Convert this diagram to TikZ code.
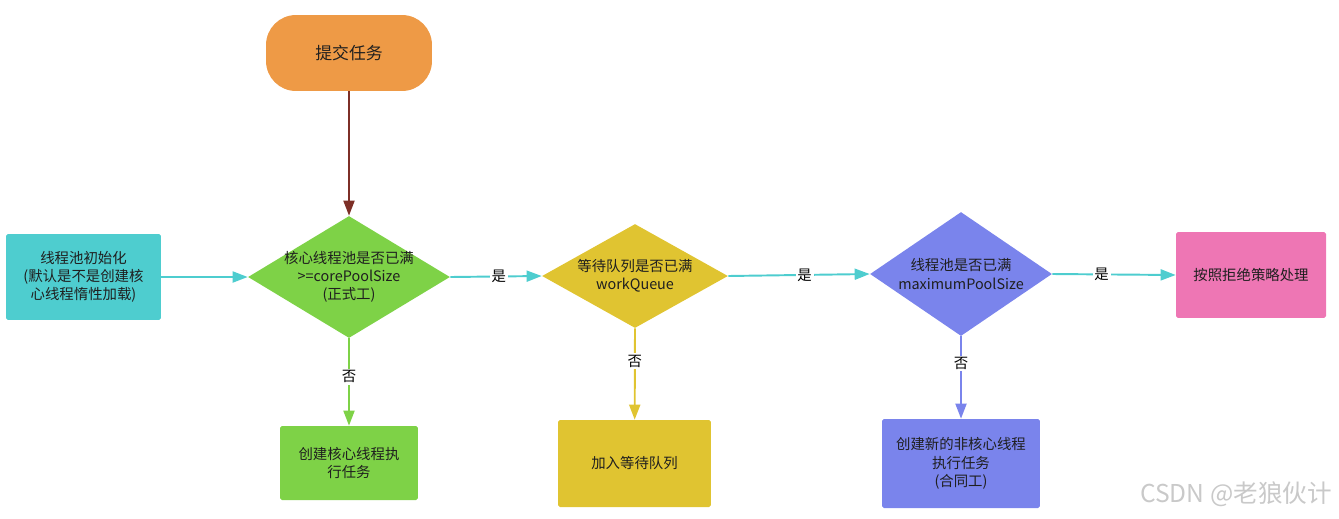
\documentclass[tikz,border=0pt]{standalone}
\usepackage{fontspec}
\setmainfont{Noto Sans CJK SC}
\usetikzlibrary{shapes.geometric,arrows.meta}
\definecolor{startc}{HTML}{EE9A46}
\definecolor{initc}{HTML}{4ECDCF}
\definecolor{corec}{HTML}{7ED247}
\definecolor{queuec}{HTML}{E0C431}
\definecolor{maxc}{HTML}{7A84EC}
\definecolor{rejc}{HTML}{EE76B4}
\definecolor{brownc}{HTML}{7D2F27}
\definecolor{markc}{HTML}{C9C9C9}

\begin{document}
\begin{tikzpicture}[x=0.02cm, y=-0.02cm, every node/.style={font=\fontsize{8.2}{10.4}\selectfont, align=center, text=black!88}, box/.style={rectangle, inner sep=0pt, rounded corners=1pt}, dia/.style={diamond, inner sep=0pt}, flow/.style={line width=1.1pt, -{Triangle[length=0.3cm, width=0.22cm]}}, lab/.style={fill=white, inner sep=1pt, text=black}]
	\useasboundingbox (0,0) rectangle (1339,518);
	% start and init
	\node[box, fill=startc, rounded corners=0.6cm, minimum width=3.32cm, minimum height=1.52cm, font=\fontsize{9.6}{12}\selectfont] (start) at (349,53) {提交任务};
	\node[box, fill=initc, minimum width=3.1cm, minimum height=1.72cm] (init) at (83.5,277) {线程池初始化\\(默认是不是创建核\\心线程惰性加载)};
	% decisions
	\node[dia, fill=corec, minimum width=4.04cm, minimum height=2.44cm] (q1) at (349,277) {};
	\node (q1t) at (q1) {核心线程池是否已满\\>=corePoolSize\\(正式工)};
	\node[dia, fill=queuec, minimum width=3.72cm, minimum height=2.08cm] (q2) at (635,276) {};
	\node (q2t) at (q2) {等待队列是否已满\\workQueue};
	\node[dia, fill=maxc, minimum width=3.64cm, minimum height=2.48cm] (q3) at (961,274) {};
	\node (q3t) at (q3) {线程池是否已满\\maximumPoolSize};
	% results
	\node[box, fill=rejc, minimum width=3.0cm, minimum height=1.72cm] (rej) at (1251,275) {按照拒绝策略处理};
	\node[box, fill=corec, minimum width=2.76cm, minimum height=1.48cm] (core) at (349,463) {创建核心线程执\\行任务};
	\node[box, fill=queuec, minimum width=3.06cm, minimum height=1.74cm] (queue) at (634.5,463.5) {加入等待队列};
	\node[box, fill=maxc, minimum width=3.16cm, minimum height=1.78cm] (noncore) at (961,463.5) {创建新的非核心线程\\执行任务\\(合同工)};
	% connectors
	\draw[flow, brownc] (start) -- (q1.north);
	\draw[flow, initc] (init) -- (q1.west);
	\draw[flow, initc] (q1.east) -- (q2.west) node[lab, pos=0.53] {是};
	\draw[flow, initc] (q2.east) -- (q3.west) node[lab, pos=0.54] {是};
	\draw[flow, initc] (q3.east) -- (rej.west) node[lab, pos=0.4] {是};
	\draw[flow, corec] (q1.south) -- (core) node[lab, pos=0.44] {否};
	\draw[flow, queuec] (q2.south) -- (queue) node[lab, pos=0.36] {否};
	\draw[flow, maxc] (q3.south) -- (noncore) node[lab, pos=0.33] {否};
	\node[text=markc, font=\fontsize{14}{16}\selectfont] (mark) at (1236,494) {CSDN @老狼伙计};
\end{tikzpicture}
\end{document}
